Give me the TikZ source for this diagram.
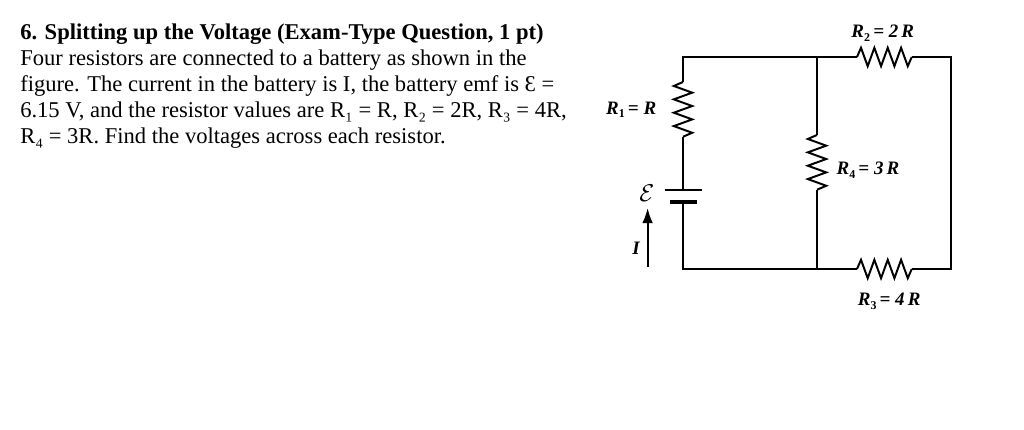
\documentclass[tikz,border=0pt]{standalone}
\usepackage{fontspec}
\setmainfont{Liberation Serif}
\usetikzlibrary{arrows.meta}
\usetikzlibrary{positioning}
\tikzset{
	wire/.style={line width=1.4pt, line join=miter},
	circlabel/.style={font=\fontsize{13.5}{15}\selectfont\bfseries\itshape, inner sep=0pt},
	resistorzig/.pic={
		\draw[wire] (0,0) -- ++(0.1,0.23) -- ++(0.167,-0.46) -- ++(0.167,0.46) -- ++(0.167,-0.46) -- ++(0.167,0.46) -- ++(0.167,-0.46) -- ++(0.167,0.46) -- ++(0.167,-0.46) -- ++(0.1,0.23);
		\coordinate (-in) at (0,0);
		\coordinate (-out) at (1.369,0);
	}
}
\newcommand{\subn}[1]{\raisebox{-0.4ex}{\fontsize{8.5}{9}\selectfont\upshape #1}}
\begin{document}
\begin{tikzpicture}
	\useasboundingbox (0,0) rectangle (25.6,10.75);

	\node[anchor=north west, inner sep=0pt, align=left, font=\fontsize{16.05}{18.5}\selectfont] (question) at (0.5,10.15) {\textbf{6. Splitting up the Voltage (Exam-Type Question, 1 pt)}\\
		Four resistors are connected to a battery as shown in the\\
		figure. The current in the battery is I, the battery emf is Ɛ =\\
		6.15 V, and the resistor values are R₁ = R, R₂ = 2R, R₃ = 4R,\\
		R₄ = 3R. Find the voltages across each resistor.};

	\pic[rotate=-90,yscale=-1] (r1) at (17.075,8.7) {resistorzig};
	\pic (r2) at (21.425,9.325) {resistorzig};
	\pic (r3) at (21.425,4.025) {resistorzig};
	\pic[rotate=-90,yscale=-1] (r4) at (20.425,7.375) {resistorzig};

	\coordinate (plateup) at (17.075,6);
	\coordinate (platedown) at (17.075,5.7);
	\coordinate (jtop) at (20.425,9.325);
	\coordinate (jbot) at (20.425,4.025);

	% loop wires
	\draw[wire] (r1-in) |- (r2-in);
	\draw[wire] (r2-out) -| (23.775,4.025) -- (r3-out);
	\draw[wire] (r3-in) -- (jbot) -| (platedown);
	\draw[wire] (r1-out) -- (plateup);
	\draw[wire] (jtop) -- (r4-in);
	\draw[wire] (r4-out) -- (jbot);

	% battery
	\draw[wire] ([xshift=-0.45cm]plateup) -- ([xshift=0.475cm]plateup);
	\draw[line width=2.8pt] ([xshift=-0.33cm]platedown) -- ([xshift=0.35cm]platedown);

	% current arrow
	\coordinate (itail) at (16.19,4.07);
	\coordinate (ihead) at (16.19,5.55);
	\draw[wire, -{Latex[length=0.38cm,width=0.27cm]}] (itail) -- (ihead);

	\node[circlabel] (r1lab) at (15.78,8) {R\subn{1}\,= R};
	\node[circlabel] (r2lab) at (22.07,9.92) {R\subn{2}\,= 2\,R};
	\node[circlabel] (r3lab) at (22.23,3.22) {R\subn{3}\,= 4\,R};
	\node[circlabel] (r4lab) at (21.7,6.5) {R\subn{4}\,= 3\,R};
	\node[circlabel, font=\fontsize{16}{18}\selectfont] (emf) at (16.17,5.93) {$\mathcal{E}$};
	\node[circlabel] (curr) at (15.9,4.55) {I};
\end{tikzpicture}
\end{document}
